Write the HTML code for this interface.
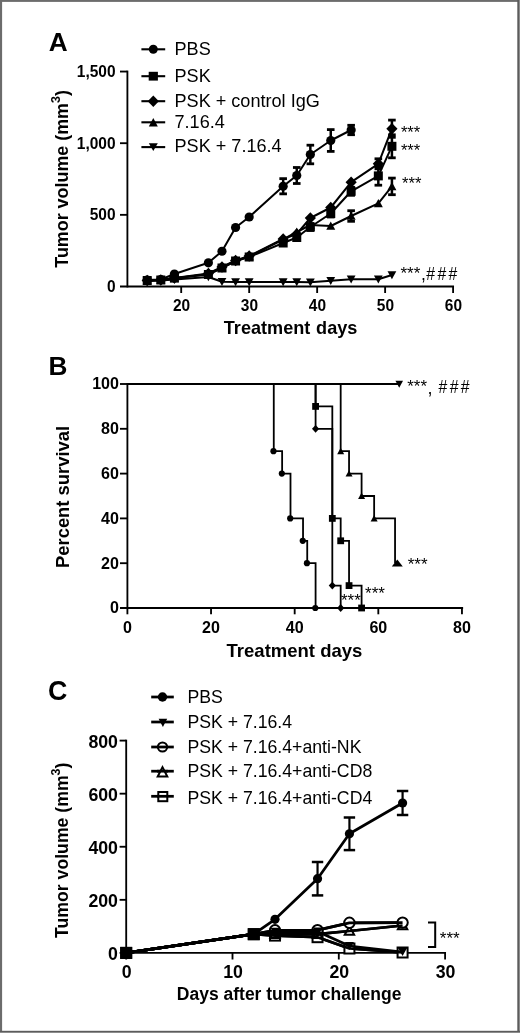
<!DOCTYPE html>
<html lang="en">
<head>
<meta charset="utf-8">
<title>Figure: tumor volume and survival</title>
<style>
html,body{margin:0;padding:0;background:#fff;}
body{width:520px;height:1033px;overflow:hidden;position:relative;}
svg{display:block;position:absolute;left:0;top:0;}
text{font-family:"Liberation Sans",sans-serif;fill:#000;}
</style>
</head>
<body>
<svg width="520" height="1033" viewBox="0 0 520 1033">
<rect x="0" y="0" width="520" height="1033" fill="#fff"/>
<g id="frame">
<rect x="0" y="0" width="520" height="1.9" fill="#6c6c6c"/>
<rect x="0" y="0" width="2.1" height="1033" fill="#6c6c6c"/>
<rect x="517.3" y="0" width="1.7" height="1033" fill="#5c5c5c"/>
<rect x="519" y="0" width="1" height="1033" fill="#8c8c8c"/>
<rect x="0" y="1030.8" width="520" height="1.3" fill="#5c5c5c"/>
<rect x="0" y="1032" width="520" height="1" fill="#8c8c8c"/>
</g>
<g id="panelA">
<text x="48.8" y="50.5" font-size="26.2" font-weight="700">A</text>
<line x1="127.4" y1="70.62" x2="127.4" y2="287.43" stroke="#000" stroke-width="1.85" stroke-linecap="butt"/>
<line x1="120" y1="286.5" x2="454.03" y2="286.5" stroke="#000" stroke-width="1.85" stroke-linecap="butt"/>
<line x1="120" y1="71.55" x2="127.4" y2="71.55" stroke="#000" stroke-width="1.85" stroke-linecap="butt"/>
<text transform="translate(115.6 77.05) scale(0.89 1)" font-size="17.4" font-weight="700" text-anchor="end">1,500</text>
<line x1="120" y1="143.2" x2="127.4" y2="143.2" stroke="#000" stroke-width="1.85" stroke-linecap="butt"/>
<text transform="translate(115.6 148.7) scale(0.89 1)" font-size="17.4" font-weight="700" text-anchor="end">1,000</text>
<line x1="120" y1="214.85" x2="127.4" y2="214.85" stroke="#000" stroke-width="1.85" stroke-linecap="butt"/>
<text transform="translate(115.6 220.35) scale(0.89 1)" font-size="17.4" font-weight="700" text-anchor="end">500</text>
<text transform="translate(115.6 292) scale(0.89 1)" font-size="17.4" font-weight="700" text-anchor="end">0</text>
<line x1="181.2" y1="286.5" x2="181.2" y2="293" stroke="#000" stroke-width="1.85" stroke-linecap="butt"/>
<text transform="translate(181.5 310.8) scale(0.89 1)" font-size="17.4" font-weight="700" text-anchor="middle">20</text>
<line x1="249.18" y1="286.5" x2="249.18" y2="293" stroke="#000" stroke-width="1.85" stroke-linecap="butt"/>
<text transform="translate(249.48 310.8) scale(0.89 1)" font-size="17.4" font-weight="700" text-anchor="middle">30</text>
<line x1="317.15" y1="286.5" x2="317.15" y2="293" stroke="#000" stroke-width="1.85" stroke-linecap="butt"/>
<text transform="translate(317.45 310.8) scale(0.89 1)" font-size="17.4" font-weight="700" text-anchor="middle">40</text>
<line x1="385.12" y1="286.5" x2="385.12" y2="293" stroke="#000" stroke-width="1.85" stroke-linecap="butt"/>
<text transform="translate(385.43 310.8) scale(0.89 1)" font-size="17.4" font-weight="700" text-anchor="middle">50</text>
<line x1="453.1" y1="286.5" x2="453.1" y2="293" stroke="#000" stroke-width="1.85" stroke-linecap="butt"/>
<text transform="translate(453.4 310.8) scale(0.89 1)" font-size="17.4" font-weight="700" text-anchor="middle">60</text>
<text x="223.8" y="334" font-size="18.1" font-weight="700" word-spacing="0.8">Treatment days</text>
<text transform="translate(67.6 267.7) rotate(-90)" font-size="18.3" font-weight="700" textLength="177.7" lengthAdjust="spacingAndGlyphs">Tumor volume (mm<tspan font-size="12.9" dy="-7.6">3</tspan><tspan dy="7.6">)</tspan></text>
<polyline points="147.21,281 160.81,280.5 174.4,279.5 208.39,277 221.98,281.8 235.58,282 249.18,282 283.16,282 296.76,282 310.35,282.3 330.75,280.8 351.14,279.3 378.33,279.3 391.92,275" fill="none" stroke="#000" stroke-width="2" stroke-linejoin="round"/>
<polygon points="142.81,277.3 151.61,277.3 147.21,285.3" fill="#000"/>
<polygon points="156.41,276.8 165.21,276.8 160.81,284.8" fill="#000"/>
<polygon points="170,275.8 178.8,275.8 174.4,283.8" fill="#000"/>
<polygon points="203.99,273.3 212.79,273.3 208.39,281.3" fill="#000"/>
<polygon points="217.58,278.1 226.38,278.1 221.98,286.1" fill="#000"/>
<polygon points="231.18,278.3 239.98,278.3 235.58,286.3" fill="#000"/>
<polygon points="244.78,278.3 253.58,278.3 249.18,286.3" fill="#000"/>
<polygon points="278.76,278.3 287.56,278.3 283.16,286.3" fill="#000"/>
<polygon points="292.36,278.3 301.16,278.3 296.76,286.3" fill="#000"/>
<polygon points="305.95,278.6 314.75,278.6 310.35,286.6" fill="#000"/>
<polygon points="326.35,277.1 335.14,277.1 330.75,285.1" fill="#000"/>
<polygon points="346.74,275.6 355.54,275.6 351.14,283.6" fill="#000"/>
<polygon points="373.93,275.6 382.73,275.6 378.33,283.6" fill="#000"/>
<polygon points="387.52,271.3 396.32,271.3 391.92,279.3" fill="#000"/>
<polyline points="147.21,280.5 160.81,280 174.4,278.5 208.39,274 221.98,267.5 235.58,261 249.18,256.5 283.16,239.5 296.76,232 310.35,225 330.75,226 351.14,216 378.33,203.4 391.92,186.4" fill="none" stroke="#000" stroke-width="2" stroke-linejoin="round"/>
<line x1="351.14" y1="210.7" x2="351.14" y2="221.3" stroke="#000" stroke-width="2.5" stroke-linecap="butt"/><line x1="347.34" y1="210.7" x2="354.94" y2="210.7" stroke="#000" stroke-width="2.8" stroke-linecap="butt"/><line x1="347.34" y1="221.3" x2="354.94" y2="221.3" stroke="#000" stroke-width="2.8" stroke-linecap="butt"/>
<line x1="391.92" y1="178.1" x2="391.92" y2="194.7" stroke="#000" stroke-width="2.5" stroke-linecap="butt"/><line x1="388.12" y1="178.1" x2="395.72" y2="178.1" stroke="#000" stroke-width="2.8" stroke-linecap="butt"/><line x1="388.12" y1="194.7" x2="395.72" y2="194.7" stroke="#000" stroke-width="2.8" stroke-linecap="butt"/>
<polygon points="147.21,276.1 151.71,284.3 142.71,284.3" fill="#000"/>
<polygon points="160.81,275.6 165.31,283.8 156.31,283.8" fill="#000"/>
<polygon points="174.4,274.1 178.9,282.3 169.9,282.3" fill="#000"/>
<polygon points="208.39,269.6 212.89,277.8 203.89,277.8" fill="#000"/>
<polygon points="221.98,263.1 226.48,271.3 217.48,271.3" fill="#000"/>
<polygon points="235.58,256.6 240.08,264.8 231.08,264.8" fill="#000"/>
<polygon points="249.18,252.1 253.68,260.3 244.68,260.3" fill="#000"/>
<polygon points="283.16,235.1 287.66,243.3 278.66,243.3" fill="#000"/>
<polygon points="296.76,227.6 301.26,235.8 292.26,235.8" fill="#000"/>
<polygon points="310.35,220.6 314.85,228.8 305.85,228.8" fill="#000"/>
<polygon points="330.75,221.6 335.25,229.8 326.25,229.8" fill="#000"/>
<polygon points="351.14,211.6 355.64,219.8 346.64,219.8" fill="#000"/>
<polygon points="378.33,199 382.83,207.2 373.83,207.2" fill="#000"/>
<polygon points="391.92,182 396.42,190.2 387.42,190.2" fill="#000"/>
<polyline points="147.21,280.5 160.81,280 174.4,278 208.39,274.5 221.98,268 235.58,261 249.18,257 283.16,243 296.76,237.5 310.35,227 330.75,213.5 351.14,191.3 378.33,175.9 391.92,146.3" fill="none" stroke="#000" stroke-width="2" stroke-linejoin="round"/>
<line x1="378.33" y1="166.6" x2="378.33" y2="185.2" stroke="#000" stroke-width="2.5" stroke-linecap="butt"/><line x1="374.53" y1="166.6" x2="382.13" y2="166.6" stroke="#000" stroke-width="2.8" stroke-linecap="butt"/><line x1="374.53" y1="185.2" x2="382.13" y2="185.2" stroke="#000" stroke-width="2.8" stroke-linecap="butt"/>
<line x1="391.92" y1="134.8" x2="391.92" y2="157.8" stroke="#000" stroke-width="2.5" stroke-linecap="butt"/><line x1="388.12" y1="134.8" x2="395.72" y2="134.8" stroke="#000" stroke-width="2.8" stroke-linecap="butt"/><line x1="388.12" y1="157.8" x2="395.72" y2="157.8" stroke="#000" stroke-width="2.8" stroke-linecap="butt"/>
<line x1="351.14" y1="187.3" x2="351.14" y2="195.3" stroke="#000" stroke-width="2.5" stroke-linecap="butt"/><line x1="347.34" y1="187.3" x2="354.94" y2="187.3" stroke="#000" stroke-width="2.8" stroke-linecap="butt"/><line x1="347.34" y1="195.3" x2="354.94" y2="195.3" stroke="#000" stroke-width="2.8" stroke-linecap="butt"/>
<line x1="330.75" y1="210" x2="330.75" y2="217" stroke="#000" stroke-width="2.5" stroke-linecap="butt"/><line x1="326.94" y1="210" x2="334.55" y2="210" stroke="#000" stroke-width="2.8" stroke-linecap="butt"/><line x1="326.94" y1="217" x2="334.55" y2="217" stroke="#000" stroke-width="2.8" stroke-linecap="butt"/>
<line x1="310.35" y1="223.5" x2="310.35" y2="230.5" stroke="#000" stroke-width="2.5" stroke-linecap="butt"/><line x1="306.55" y1="223.5" x2="314.15" y2="223.5" stroke="#000" stroke-width="2.8" stroke-linecap="butt"/><line x1="306.55" y1="230.5" x2="314.15" y2="230.5" stroke="#000" stroke-width="2.8" stroke-linecap="butt"/>
<rect x="142.71" y="276" width="9" height="9" fill="#000"/>
<rect x="156.31" y="275.5" width="9" height="9" fill="#000"/>
<rect x="169.9" y="273.5" width="9" height="9" fill="#000"/>
<rect x="203.89" y="270" width="9" height="9" fill="#000"/>
<rect x="217.48" y="263.5" width="9" height="9" fill="#000"/>
<rect x="231.08" y="256.5" width="9" height="9" fill="#000"/>
<rect x="244.68" y="252.5" width="9" height="9" fill="#000"/>
<rect x="278.66" y="238.5" width="9" height="9" fill="#000"/>
<rect x="292.26" y="233" width="9" height="9" fill="#000"/>
<rect x="305.85" y="222.5" width="9" height="9" fill="#000"/>
<rect x="326.25" y="209" width="9" height="9" fill="#000"/>
<rect x="346.64" y="186.8" width="9" height="9" fill="#000"/>
<rect x="373.83" y="171.4" width="9" height="9" fill="#000"/>
<rect x="387.42" y="141.8" width="9" height="9" fill="#000"/>
<polyline points="147.21,280.5 160.81,280 174.4,278 208.39,273.5 221.98,267 235.58,260.5 249.18,256 283.16,239 296.76,234 310.35,218 330.75,207.5 351.14,182.2 378.33,163.8 391.92,128.7" fill="none" stroke="#000" stroke-width="2" stroke-linejoin="round"/>
<line x1="378.33" y1="158.8" x2="378.33" y2="168.8" stroke="#000" stroke-width="2.5" stroke-linecap="butt"/><line x1="374.53" y1="158.8" x2="382.13" y2="158.8" stroke="#000" stroke-width="2.8" stroke-linecap="butt"/><line x1="374.53" y1="168.8" x2="382.13" y2="168.8" stroke="#000" stroke-width="2.8" stroke-linecap="butt"/>
<line x1="391.92" y1="120.1" x2="391.92" y2="137.3" stroke="#000" stroke-width="2.5" stroke-linecap="butt"/><line x1="388.12" y1="120.1" x2="395.72" y2="120.1" stroke="#000" stroke-width="2.8" stroke-linecap="butt"/><line x1="388.12" y1="137.3" x2="395.72" y2="137.3" stroke="#000" stroke-width="2.8" stroke-linecap="butt"/>
<polygon points="147.21,274.75 152.81,280.5 147.21,286.25 141.61,280.5" fill="#000"/>
<polygon points="160.81,274.25 166.41,280 160.81,285.75 155.21,280" fill="#000"/>
<polygon points="174.4,272.25 180,278 174.4,283.75 168.8,278" fill="#000"/>
<polygon points="208.39,267.75 213.99,273.5 208.39,279.25 202.79,273.5" fill="#000"/>
<polygon points="221.98,261.25 227.58,267 221.98,272.75 216.38,267" fill="#000"/>
<polygon points="235.58,254.75 241.18,260.5 235.58,266.25 229.98,260.5" fill="#000"/>
<polygon points="249.18,250.25 254.78,256 249.18,261.75 243.58,256" fill="#000"/>
<polygon points="283.16,233.25 288.76,239 283.16,244.75 277.56,239" fill="#000"/>
<polygon points="296.76,228.25 302.36,234 296.76,239.75 291.16,234" fill="#000"/>
<polygon points="310.35,212.25 315.95,218 310.35,223.75 304.75,218" fill="#000"/>
<polygon points="330.75,201.75 336.35,207.5 330.75,213.25 325.14,207.5" fill="#000"/>
<polygon points="351.14,176.45 356.74,182.2 351.14,187.95 345.54,182.2" fill="#000"/>
<polygon points="378.33,158.05 383.93,163.8 378.33,169.55 372.73,163.8" fill="#000"/>
<polygon points="391.92,122.95 397.52,128.7 391.92,134.45 386.32,128.7" fill="#000"/>
<polyline points="147.21,280 160.81,279.5 174.4,274 208.39,262.8 221.98,251.25 235.58,227.5 249.18,217 283.16,186.25 296.76,175.5 310.35,154.5 330.75,140.5 351.14,130" fill="none" stroke="#000" stroke-width="2" stroke-linejoin="round"/>
<line x1="283.16" y1="178.65" x2="283.16" y2="193.85" stroke="#000" stroke-width="2.5" stroke-linecap="butt"/><line x1="279.36" y1="178.65" x2="286.96" y2="178.65" stroke="#000" stroke-width="2.8" stroke-linecap="butt"/><line x1="279.36" y1="193.85" x2="286.96" y2="193.85" stroke="#000" stroke-width="2.8" stroke-linecap="butt"/>
<line x1="296.76" y1="167.5" x2="296.76" y2="183.5" stroke="#000" stroke-width="2.5" stroke-linecap="butt"/><line x1="292.96" y1="167.5" x2="300.56" y2="167.5" stroke="#000" stroke-width="2.8" stroke-linecap="butt"/><line x1="292.96" y1="183.5" x2="300.56" y2="183.5" stroke="#000" stroke-width="2.8" stroke-linecap="butt"/>
<line x1="310.35" y1="145.2" x2="310.35" y2="163.8" stroke="#000" stroke-width="2.5" stroke-linecap="butt"/><line x1="306.55" y1="145.2" x2="314.15" y2="145.2" stroke="#000" stroke-width="2.8" stroke-linecap="butt"/><line x1="306.55" y1="163.8" x2="314.15" y2="163.8" stroke="#000" stroke-width="2.8" stroke-linecap="butt"/>
<line x1="330.75" y1="129.6" x2="330.75" y2="151.4" stroke="#000" stroke-width="2.5" stroke-linecap="butt"/><line x1="326.94" y1="129.6" x2="334.55" y2="129.6" stroke="#000" stroke-width="2.8" stroke-linecap="butt"/><line x1="326.94" y1="151.4" x2="334.55" y2="151.4" stroke="#000" stroke-width="2.8" stroke-linecap="butt"/>
<line x1="351.14" y1="125.3" x2="351.14" y2="134.7" stroke="#000" stroke-width="2.5" stroke-linecap="butt"/><line x1="347.34" y1="125.3" x2="354.94" y2="125.3" stroke="#000" stroke-width="2.8" stroke-linecap="butt"/><line x1="347.34" y1="134.7" x2="354.94" y2="134.7" stroke="#000" stroke-width="2.8" stroke-linecap="butt"/>
<circle cx="147.21" cy="280" r="4.6" fill="#000"/>
<circle cx="160.81" cy="279.5" r="4.6" fill="#000"/>
<circle cx="174.4" cy="274" r="4.6" fill="#000"/>
<circle cx="208.39" cy="262.8" r="4.6" fill="#000"/>
<circle cx="221.98" cy="251.25" r="4.6" fill="#000"/>
<circle cx="235.58" cy="227.5" r="4.6" fill="#000"/>
<circle cx="249.18" cy="217" r="4.6" fill="#000"/>
<circle cx="283.16" cy="186.25" r="4.6" fill="#000"/>
<circle cx="296.76" cy="175.5" r="4.6" fill="#000"/>
<circle cx="310.35" cy="154.5" r="4.6" fill="#000"/>
<circle cx="330.75" cy="140.5" r="4.6" fill="#000"/>
<circle cx="351.14" cy="130" r="4.6" fill="#000"/>
<line x1="141.4" y1="49.3" x2="165.2" y2="49.3" stroke="#000" stroke-width="2.1" stroke-linecap="butt"/>
<circle cx="153.3" cy="49.3" r="4.5" fill="#000"/>
<line x1="141.4" y1="76.2" x2="165.2" y2="76.2" stroke="#000" stroke-width="2.1" stroke-linecap="butt"/>
<rect x="148.7" y="71.8" width="9.2" height="8.8" fill="#000"/>
<line x1="141.4" y1="101.2" x2="165.2" y2="101.2" stroke="#000" stroke-width="2.1" stroke-linecap="butt"/>
<polygon points="153.3,95.45 158.9,101.2 153.3,106.95 147.7,101.2" fill="#000"/>
<line x1="141.4" y1="122.3" x2="165.2" y2="122.3" stroke="#000" stroke-width="2.1" stroke-linecap="butt"/>
<polygon points="153.3,118.1 157.8,126.5 148.8,126.5" fill="#000"/>
<line x1="141.4" y1="147.1" x2="165.2" y2="147.1" stroke="#000" stroke-width="2.1" stroke-linecap="butt"/>
<polygon points="148.8,143.2 157.8,143.2 153.3,151" fill="#000"/>
<text x="174.5" y="55" font-size="18.1">PBS</text>
<text x="174.5" y="82" font-size="18.1">PSK</text>
<text x="174.5" y="106.8" font-size="18.1">PSK + control IgG</text>
<text x="174.5" y="128" font-size="18.1">7.16.4</text>
<text x="174.5" y="152.4" font-size="18.1">PSK + 7.16.4</text>
<text x="400.9" y="137.7" font-size="16.6">***</text>
<text x="400.9" y="156.4" font-size="16.6">***</text>
<text x="402" y="189.2" font-size="16.6">***</text>
<text x="400.5" y="279.2" font-size="17">***</text>
<text x="421" y="280.2" font-size="17.5">,</text>
<text transform="translate(426.3 280.3) scale(0.85 1)" font-size="18.6" letter-spacing="2.7">###</text>
</g>
<g id="panelB">
<text x="48.6" y="375.4" font-size="26.2" font-weight="700">B</text>
<line x1="127.4" y1="383.07" x2="127.4" y2="614.3" stroke="#000" stroke-width="1.85" stroke-linecap="butt"/>
<line x1="120" y1="608" x2="463.12" y2="608" stroke="#000" stroke-width="1.85" stroke-linecap="butt"/>
<line x1="120" y1="384" x2="127.4" y2="384" stroke="#000" stroke-width="1.85" stroke-linecap="butt"/>
<text transform="translate(119 389.3) scale(0.93 1)" font-size="17.3" font-weight="700" text-anchor="end">100</text>
<line x1="120" y1="428.8" x2="127.4" y2="428.8" stroke="#000" stroke-width="1.85" stroke-linecap="butt"/>
<text transform="translate(119 434.1) scale(0.93 1)" font-size="17.3" font-weight="700" text-anchor="end">80</text>
<line x1="120" y1="473.6" x2="127.4" y2="473.6" stroke="#000" stroke-width="1.85" stroke-linecap="butt"/>
<text transform="translate(119 478.9) scale(0.93 1)" font-size="17.3" font-weight="700" text-anchor="end">60</text>
<line x1="120" y1="518.4" x2="127.4" y2="518.4" stroke="#000" stroke-width="1.85" stroke-linecap="butt"/>
<text transform="translate(119 523.7) scale(0.93 1)" font-size="17.3" font-weight="700" text-anchor="end">40</text>
<line x1="120" y1="563.2" x2="127.4" y2="563.2" stroke="#000" stroke-width="1.85" stroke-linecap="butt"/>
<text transform="translate(119 568.5) scale(0.93 1)" font-size="17.3" font-weight="700" text-anchor="end">20</text>
<text transform="translate(119 613.3) scale(0.93 1)" font-size="17.3" font-weight="700" text-anchor="end">0</text>
<text transform="translate(127.4 632.8) scale(0.93 1)" font-size="17.3" font-weight="700" text-anchor="middle">0</text>
<line x1="211.04" y1="608" x2="211.04" y2="614.3" stroke="#000" stroke-width="1.85" stroke-linecap="butt"/>
<text transform="translate(211.04 632.8) scale(0.93 1)" font-size="17.3" font-weight="700" text-anchor="middle">20</text>
<line x1="294.68" y1="608" x2="294.68" y2="614.3" stroke="#000" stroke-width="1.85" stroke-linecap="butt"/>
<text transform="translate(294.68 632.8) scale(0.93 1)" font-size="17.3" font-weight="700" text-anchor="middle">40</text>
<line x1="378.32" y1="608" x2="378.32" y2="614.3" stroke="#000" stroke-width="1.85" stroke-linecap="butt"/>
<text transform="translate(378.32 632.8) scale(0.93 1)" font-size="17.3" font-weight="700" text-anchor="middle">60</text>
<line x1="461.96" y1="608" x2="461.96" y2="614.3" stroke="#000" stroke-width="1.85" stroke-linecap="butt"/>
<text transform="translate(461.96 632.8) scale(0.93 1)" font-size="17.3" font-weight="700" text-anchor="middle">80</text>
<text x="226.6" y="656.8" font-size="18.5" font-weight="700">Treatment days</text>
<text transform="translate(69.3 568) rotate(-90)" font-size="18.4" font-weight="700">Percent survival</text>
<line x1="127.4" y1="384" x2="399.23" y2="384" stroke="#000" stroke-width="1.8" stroke-linecap="butt"/>
<polyline points="273.77,384 273.77,384 273.77,451.2 282.13,451.2 282.13,473.6 290.5,473.6 290.5,518.4 303.04,518.4 303.04,540.8 307.23,540.8 307.23,563.2 315.59,563.2 315.59,608" fill="none" stroke="#000" stroke-width="1.8" stroke-linejoin="miter"/>
<polyline points="315.59,384 315.59,384 315.59,406.4 332.32,406.4 332.32,518.4 340.68,518.4 340.68,540.8 349.05,540.8 349.05,585.6 361.59,585.6 361.59,608" fill="none" stroke="#000" stroke-width="1.8" stroke-linejoin="miter"/>
<polyline points="315.59,384 315.59,384 315.59,428.8 332.32,428.8 332.32,585.6 340.68,585.6 340.68,608" fill="none" stroke="#000" stroke-width="1.8" stroke-linejoin="miter"/>
<polyline points="340.68,384 340.68,384 340.68,451.2 349.05,451.2 349.05,473.6 361.59,473.6 361.59,496 374.14,496 374.14,518.4 395.05,518.4 395.05,563.2" fill="none" stroke="#000" stroke-width="1.8" stroke-linejoin="miter"/>
<circle cx="273.47" cy="451.2" r="3.1" fill="#000"/>
<circle cx="281.83" cy="473.6" r="3.1" fill="#000"/>
<circle cx="290.2" cy="518.4" r="3.1" fill="#000"/>
<circle cx="302.74" cy="540.8" r="3.1" fill="#000"/>
<circle cx="306.93" cy="563.2" r="3.1" fill="#000"/>
<circle cx="315.29" cy="608" r="3.1" fill="#000"/>
<rect x="312.19" y="403" width="6.8" height="6.8" fill="#000"/>
<rect x="328.92" y="515" width="6.8" height="6.8" fill="#000"/>
<rect x="337.28" y="537.4" width="6.8" height="6.8" fill="#000"/>
<rect x="345.65" y="582.2" width="6.8" height="6.8" fill="#000"/>
<rect x="358.19" y="604.6" width="6.8" height="6.8" fill="#000"/>
<polygon points="315.59,424.9 319.19,428.8 315.59,432.7 311.99,428.8" fill="#000"/>
<polygon points="332.32,581.7 335.92,585.6 332.32,589.5 328.72,585.6" fill="#000"/>
<polygon points="340.68,604.1 344.28,608 340.68,611.9 337.08,608" fill="#000"/>
<polygon points="340.68,447.8 344.18,454.2 337.18,454.2" fill="#000"/>
<polygon points="349.05,470.2 352.55,476.6 345.55,476.6" fill="#000"/>
<polygon points="361.59,492.6 365.09,499 358.09,499" fill="#000"/>
<polygon points="374.14,515 377.64,521.4 370.64,521.4" fill="#000"/>
<polygon points="397.3,559.6 402.8,566.6 391.8,566.6" fill="#000"/>
<polygon points="395.43,380.8 403.03,380.8 399.23,387.8" fill="#000"/>
<text x="407.3" y="391.7" font-size="16.9">***</text>
<text x="427.4" y="393.8" font-size="18">,</text>
<text transform="translate(438.6 393.3) scale(0.85 1)" font-size="18.6" letter-spacing="2.7">###</text>
<text x="407.7" y="569.5" font-size="17">***</text>
<text x="365.1" y="598.8" font-size="17">***</text>
<text x="341" y="606.4" font-size="17">***</text>
</g>
<g id="panelC">
<text x="48" y="699.9" font-size="26.8" font-weight="700">C</text>
<line x1="126.2" y1="739.68" x2="126.2" y2="959.5" stroke="#000" stroke-width="1.85" stroke-linecap="butt"/>
<line x1="119.6" y1="952.9" x2="446.03" y2="952.9" stroke="#000" stroke-width="1.85" stroke-linecap="butt"/>
<line x1="119.6" y1="740.6" x2="126.2" y2="740.6" stroke="#000" stroke-width="1.85" stroke-linecap="butt"/>
<text transform="translate(118 747.6) scale(0.95 1)" font-size="18.7" font-weight="700" text-anchor="end">800</text>
<line x1="119.6" y1="793.67" x2="126.2" y2="793.67" stroke="#000" stroke-width="1.85" stroke-linecap="butt"/>
<text transform="translate(118 800.67) scale(0.95 1)" font-size="18.7" font-weight="700" text-anchor="end">600</text>
<line x1="119.6" y1="846.75" x2="126.2" y2="846.75" stroke="#000" stroke-width="1.85" stroke-linecap="butt"/>
<text transform="translate(118 853.75) scale(0.95 1)" font-size="18.7" font-weight="700" text-anchor="end">400</text>
<line x1="119.6" y1="899.83" x2="126.2" y2="899.83" stroke="#000" stroke-width="1.85" stroke-linecap="butt"/>
<text transform="translate(118 906.83) scale(0.95 1)" font-size="18.7" font-weight="700" text-anchor="end">200</text>
<text transform="translate(118 959.9) scale(0.95 1)" font-size="18.7" font-weight="700" text-anchor="end">0</text>
<text transform="translate(126.7 978.2) scale(0.95 1)" font-size="18.7" font-weight="700" text-anchor="middle">0</text>
<line x1="232.5" y1="952.9" x2="232.5" y2="959.5" stroke="#000" stroke-width="1.85" stroke-linecap="butt"/>
<text transform="translate(233 978.2) scale(0.95 1)" font-size="18.7" font-weight="700" text-anchor="middle">10</text>
<line x1="338.8" y1="952.9" x2="338.8" y2="959.5" stroke="#000" stroke-width="1.85" stroke-linecap="butt"/>
<text transform="translate(339.3 978.2) scale(0.95 1)" font-size="18.7" font-weight="700" text-anchor="middle">20</text>
<line x1="445.1" y1="952.9" x2="445.1" y2="959.5" stroke="#000" stroke-width="1.85" stroke-linecap="butt"/>
<text transform="translate(445.6 978.2) scale(0.95 1)" font-size="18.7" font-weight="700" text-anchor="middle">30</text>
<text x="176.8" y="1000.2" font-size="17.5" font-weight="700">Days after tumor challenge</text>
<text transform="translate(67.9 937.9) rotate(-90)" font-size="18.3" font-weight="700" textLength="175.3" lengthAdjust="spacingAndGlyphs">Tumor volume (mm<tspan font-size="12.9" dy="-7.6">3</tspan><tspan dy="7.6">)</tspan></text>
<polyline points="126.2,952.9 253.76,934.2 275.02,935.6 317.54,937.2 349.43,948.5 402.58,952.5" fill="none" stroke="#000" stroke-width="2.75" stroke-linejoin="round"/>
<rect x="120.2" y="946.9" width="12" height="12" fill="#000"/>
<rect x="247.76" y="928.2" width="12" height="12" fill="#000"/>
<rect x="270.02" y="930.6" width="10" height="10" fill="#fff" stroke="#000" stroke-width="2"/>
<rect x="312.54" y="932.2" width="10" height="10" fill="#fff" stroke="#000" stroke-width="2"/>
<rect x="344.43" y="943.5" width="10" height="10" fill="#fff" stroke="#000" stroke-width="2"/>
<rect x="397.58" y="947.5" width="10" height="10" fill="#fff" stroke="#000" stroke-width="2"/>
<polyline points="126.2,952.9 253.76,934.2 275.02,934.2 317.54,934.2 349.43,931 402.58,925.5" fill="none" stroke="#000" stroke-width="2.75" stroke-linejoin="round"/>


<polygon points="275.02,929.3 279.72,937.9 270.32,937.9" fill="#fff" stroke="#000" stroke-width="2" stroke-linejoin="miter"/>
<polygon points="317.54,929.3 322.24,937.9 312.84,937.9" fill="#fff" stroke="#000" stroke-width="2" stroke-linejoin="miter"/>
<polygon points="349.43,926.1 354.13,934.7 344.73,934.7" fill="#fff" stroke="#000" stroke-width="2" stroke-linejoin="miter"/>
<polygon points="402.58,920.6 407.28,929.2 397.88,929.2" fill="#fff" stroke="#000" stroke-width="2" stroke-linejoin="miter"/>
<polyline points="126.2,952.9 253.76,934.2 275.02,930.3 317.54,930.2 349.43,922.8 402.58,922.6" fill="none" stroke="#000" stroke-width="2.75" stroke-linejoin="round"/>


<circle cx="275.02" cy="930.3" r="5.2" fill="#fff" stroke="#000" stroke-width="2"/>
<circle cx="317.54" cy="930.2" r="5.2" fill="#fff" stroke="#000" stroke-width="2"/>
<circle cx="349.43" cy="922.8" r="5.2" fill="#fff" stroke="#000" stroke-width="2"/>
<circle cx="402.58" cy="922.6" r="5.2" fill="#fff" stroke="#000" stroke-width="2"/>
<polyline points="126.2,952.9 253.76,934.2 275.02,931.8 317.54,931.5 349.43,946 402.58,952" fill="none" stroke="#000" stroke-width="2.75" stroke-linejoin="round"/>


<polygon points="270.52,927.8 279.52,927.8 275.02,935.8" fill="#000"/>
<polygon points="313.04,927.5 322.04,927.5 317.54,935.5" fill="#000"/>
<polygon points="344.93,942 353.93,942 349.43,950" fill="#000"/>
<polygon points="398.08,948 407.08,948 402.58,956" fill="#000"/>
<polyline points="126.2,952.9 253.76,934.2 275.02,935.6 317.54,937.2 349.43,948.5 402.58,952.5" fill="none" stroke="#000" stroke-width="2.75" stroke-linejoin="round"/>
<polyline points="126.2,952.9 253.76,934.2 275.02,934.2 317.54,934.2 349.43,931 402.58,925.5" fill="none" stroke="#000" stroke-width="2.75" stroke-linejoin="round"/>
<polyline points="126.2,952.9 253.76,934.2 275.02,930.3 317.54,930.2 349.43,922.8 402.58,922.6" fill="none" stroke="#000" stroke-width="2.75" stroke-linejoin="round"/>
<polyline points="126.2,952.9 253.76,934.2 275.02,919.3 317.54,878.7 349.43,833.8 402.58,803" fill="none" stroke="#000" stroke-width="2.75" stroke-linejoin="round"/>
<line x1="317.54" y1="862" x2="317.54" y2="895.4" stroke="#000" stroke-width="2.2" stroke-linecap="butt"/><line x1="311.84" y1="862" x2="323.24" y2="862" stroke="#000" stroke-width="2.5" stroke-linecap="butt"/><line x1="311.84" y1="895.4" x2="323.24" y2="895.4" stroke="#000" stroke-width="2.5" stroke-linecap="butt"/>
<line x1="349.43" y1="817.5" x2="349.43" y2="850.1" stroke="#000" stroke-width="2.2" stroke-linecap="butt"/><line x1="343.73" y1="817.5" x2="355.13" y2="817.5" stroke="#000" stroke-width="2.5" stroke-linecap="butt"/><line x1="343.73" y1="850.1" x2="355.13" y2="850.1" stroke="#000" stroke-width="2.5" stroke-linecap="butt"/>
<line x1="402.58" y1="791" x2="402.58" y2="815" stroke="#000" stroke-width="2.2" stroke-linecap="butt"/><line x1="396.88" y1="791" x2="408.28" y2="791" stroke="#000" stroke-width="2.5" stroke-linecap="butt"/><line x1="396.88" y1="815" x2="408.28" y2="815" stroke="#000" stroke-width="2.5" stroke-linecap="butt"/>


<circle cx="275.02" cy="919.3" r="4.6" fill="#000"/>
<circle cx="317.54" cy="878.7" r="4.6" fill="#000"/>
<circle cx="349.43" cy="833.8" r="4.6" fill="#000"/>
<circle cx="402.58" cy="803" r="4.6" fill="#000"/>
<rect x="120.2" y="946.9" width="12" height="12" fill="#000"/>
<rect x="247.76" y="928.2" width="12" height="12" fill="#000"/>
<line x1="151.2" y1="697" x2="173.8" y2="697" stroke="#000" stroke-width="2.75" stroke-linecap="butt"/>
<line x1="151.2" y1="722" x2="173.8" y2="722" stroke="#000" stroke-width="2.75" stroke-linecap="butt"/>
<line x1="151.2" y1="747" x2="173.8" y2="747" stroke="#000" stroke-width="2.75" stroke-linecap="butt"/>
<line x1="151.2" y1="771.2" x2="173.8" y2="771.2" stroke="#000" stroke-width="2.75" stroke-linecap="butt"/>
<line x1="151.2" y1="796.3" x2="173.8" y2="796.3" stroke="#000" stroke-width="2.75" stroke-linecap="butt"/>
<circle cx="162.5" cy="697" r="4.7" fill="#000"/>
<polygon points="158.6,718.7 167.2,718.7 162.9,726.9" fill="#000"/>
<circle cx="162.5" cy="747" r="4.6" fill="#fff" stroke="#000" stroke-width="2"/>
<polygon points="162.5,767.1 167.3,776.5 157.7,776.5" fill="#fff" stroke="#000" stroke-width="2" stroke-linejoin="miter"/>
<rect x="158.3" y="792" width="9" height="9.2" fill="#fff" stroke="#000" stroke-width="2"/>
<line x1="157" y1="747" x2="168" y2="747" stroke="#000" stroke-width="2.75" stroke-linecap="butt"/>
<line x1="157" y1="771.2" x2="168" y2="771.2" stroke="#000" stroke-width="2.75" stroke-linecap="butt"/>
<line x1="157" y1="796.3" x2="168" y2="796.3" stroke="#000" stroke-width="2.75" stroke-linecap="butt"/>
<text x="187.4" y="703" font-size="17.7">PBS</text>
<text x="187.4" y="728" font-size="17.7">PSK + 7.16.4</text>
<text x="187.4" y="753" font-size="17.7">PSK + 7.16.4+anti-NK</text>
<text x="187.4" y="777.2" font-size="17.7">PSK + 7.16.4+anti-CD8</text>
<text x="187.4" y="803.8" font-size="17.7">PSK + 7.16.4+anti-CD4</text>
<polyline points="428,922.5 435.2,922.5 435.2,947 428,947" fill="none" stroke="#000" stroke-width="2" stroke-linejoin="miter"/>
<text x="439.8" y="943.8" font-size="17">***</text>
</g>
</svg>
</body>
</html>
